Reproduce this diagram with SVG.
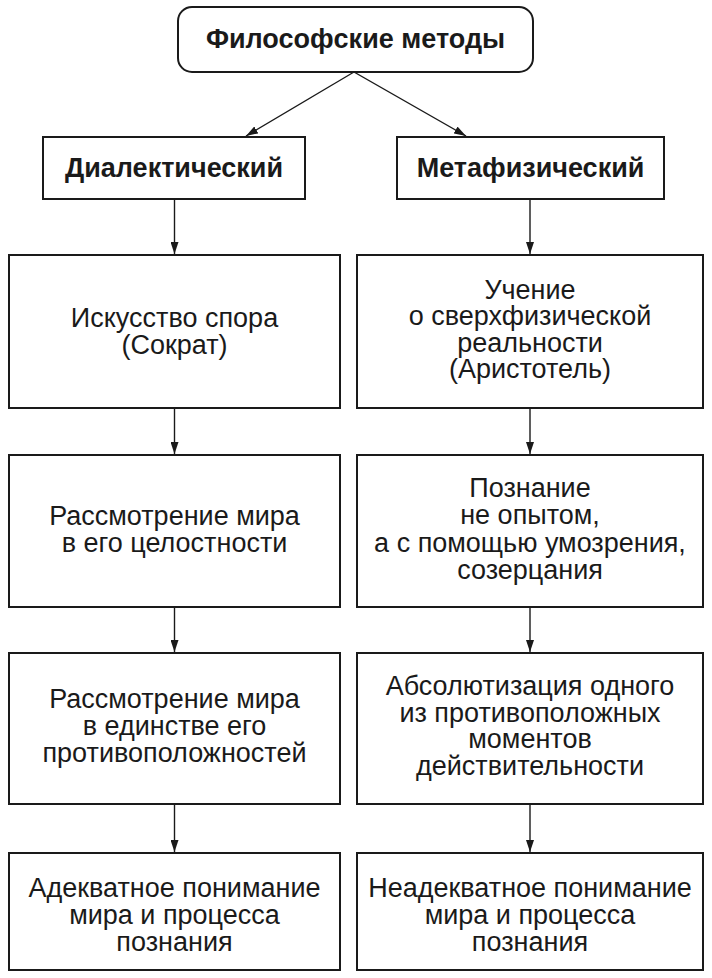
<svg xmlns="http://www.w3.org/2000/svg" width="712" height="978" viewBox="0 0 712 978">
<style>
.box{fill:#fff;stroke:#1a1a1a;stroke-width:2}
.t{font-family:"Liberation Sans",Arial,sans-serif;font-size:27px;fill:#1a1a1a;text-anchor:middle}
.b{font-family:"Liberation Sans",Arial,sans-serif;font-weight:bold;fill:#1a1a1a;text-anchor:middle}
.c{stroke:#1a1a1a;stroke-width:1.4;fill:none;marker-end:url(#ah)}
</style>
<defs>
<marker id="ah" viewBox="0 0 12 8" refX="12" refY="4" markerWidth="12" markerHeight="8" markerUnits="userSpaceOnUse" orient="auto">
<path d="M0,0 L12,4 L0,8 Z" fill="#1a1a1a"/>
</marker>
</defs>
<rect width="712" height="978" fill="#fff"/>
<g id="connectors">
<line class="c" x1="354" y1="72" x2="246" y2="136"/>
<line class="c" x1="354" y1="72" x2="466" y2="136"/>
<line class="c" x1="174.5" y1="199" x2="174.5" y2="254"/>
<line class="c" x1="530" y1="199" x2="530" y2="254"/>
<line class="c" x1="174.5" y1="408" x2="174.5" y2="454"/>
<line class="c" x1="530" y1="408" x2="530" y2="454"/>
<line class="c" x1="174.5" y1="607" x2="174.5" y2="652"/>
<line class="c" x1="530" y1="607" x2="530" y2="652"/>
<line class="c" x1="174.5" y1="804" x2="174.5" y2="852"/>
<line class="c" x1="530" y1="804" x2="530" y2="852"/>
</g>
<g id="root">
<rect class="box" x="178" y="7" width="355" height="65" rx="14"/>
<text class="b" x="355.5" y="48" font-size="27">Философские методы</text>
</g>
<g id="dialectic">
<rect class="box" x="43" y="137" width="262" height="62"/>
<text class="b" x="174" y="177" font-size="27">Диалектический</text>
</g>
<g id="metaphysic">
<rect class="box" x="397" y="137" width="267" height="62"/>
<text class="b" x="530.5" y="177" font-size="27">Метафизический</text>
</g>
<g id="d1">
<rect class="box" x="9" y="255" width="331" height="153"/>
<text class="t" x="174.5" y="327">Искусство спора</text>
<text class="t" x="174.5" y="354">(Сократ)</text>
</g>
<g id="m1">
<rect class="box" x="357" y="255" width="346" height="153"/>
<text class="t" x="530" y="299">Учение</text>
<text class="t" x="530" y="325">о сверхфизической</text>
<text class="t" x="530" y="352">реальности</text>
<text class="t" x="530" y="378">(Аристотель)</text>
</g>
<g id="d2">
<rect class="box" x="9" y="455" width="331" height="152"/>
<text class="t" x="174.5" y="525">Рассмотрение мира</text>
<text class="t" x="174.5" y="552">в его целостности</text>
</g>
<g id="m2">
<rect class="box" x="357" y="455" width="346" height="152"/>
<text class="t" x="530" y="497">Познание</text>
<text class="t" x="530" y="524">не опытом,</text>
<text class="t" x="530" y="552">а с помощью умозрения,</text>
<text class="t" x="530" y="579">созерцания</text>
</g>
<g id="d3">
<rect class="box" x="9" y="653" width="331" height="151"/>
<text class="t" x="174.5" y="708">Рассмотрение мира</text>
<text class="t" x="174.5" y="735">в единстве его</text>
<text class="t" x="174.5" y="762">противоположностей</text>
</g>
<g id="m3">
<rect class="box" x="357" y="653" width="346" height="151"/>
<text class="t" x="530" y="695">Абсолютизация одного</text>
<text class="t" x="530" y="722">из противоположных</text>
<text class="t" x="530" y="748">моментов</text>
<text class="t" x="530" y="775">действительности</text>
</g>
<g id="d4">
<rect class="box" x="9" y="853" width="331" height="117"/>
<text class="t" x="174.5" y="897">Адекватное понимание</text>
<text class="t" x="174.5" y="924">мира и процесса</text>
<text class="t" x="174.5" y="951">познания</text>
</g>
<g id="m4">
<rect class="box" x="357" y="853" width="346" height="117"/>
<text class="t" x="530" y="897">Неадекватное понимание</text>
<text class="t" x="530" y="924">мира и процесса</text>
<text class="t" x="530" y="951">познания</text>
</g>
</svg>
